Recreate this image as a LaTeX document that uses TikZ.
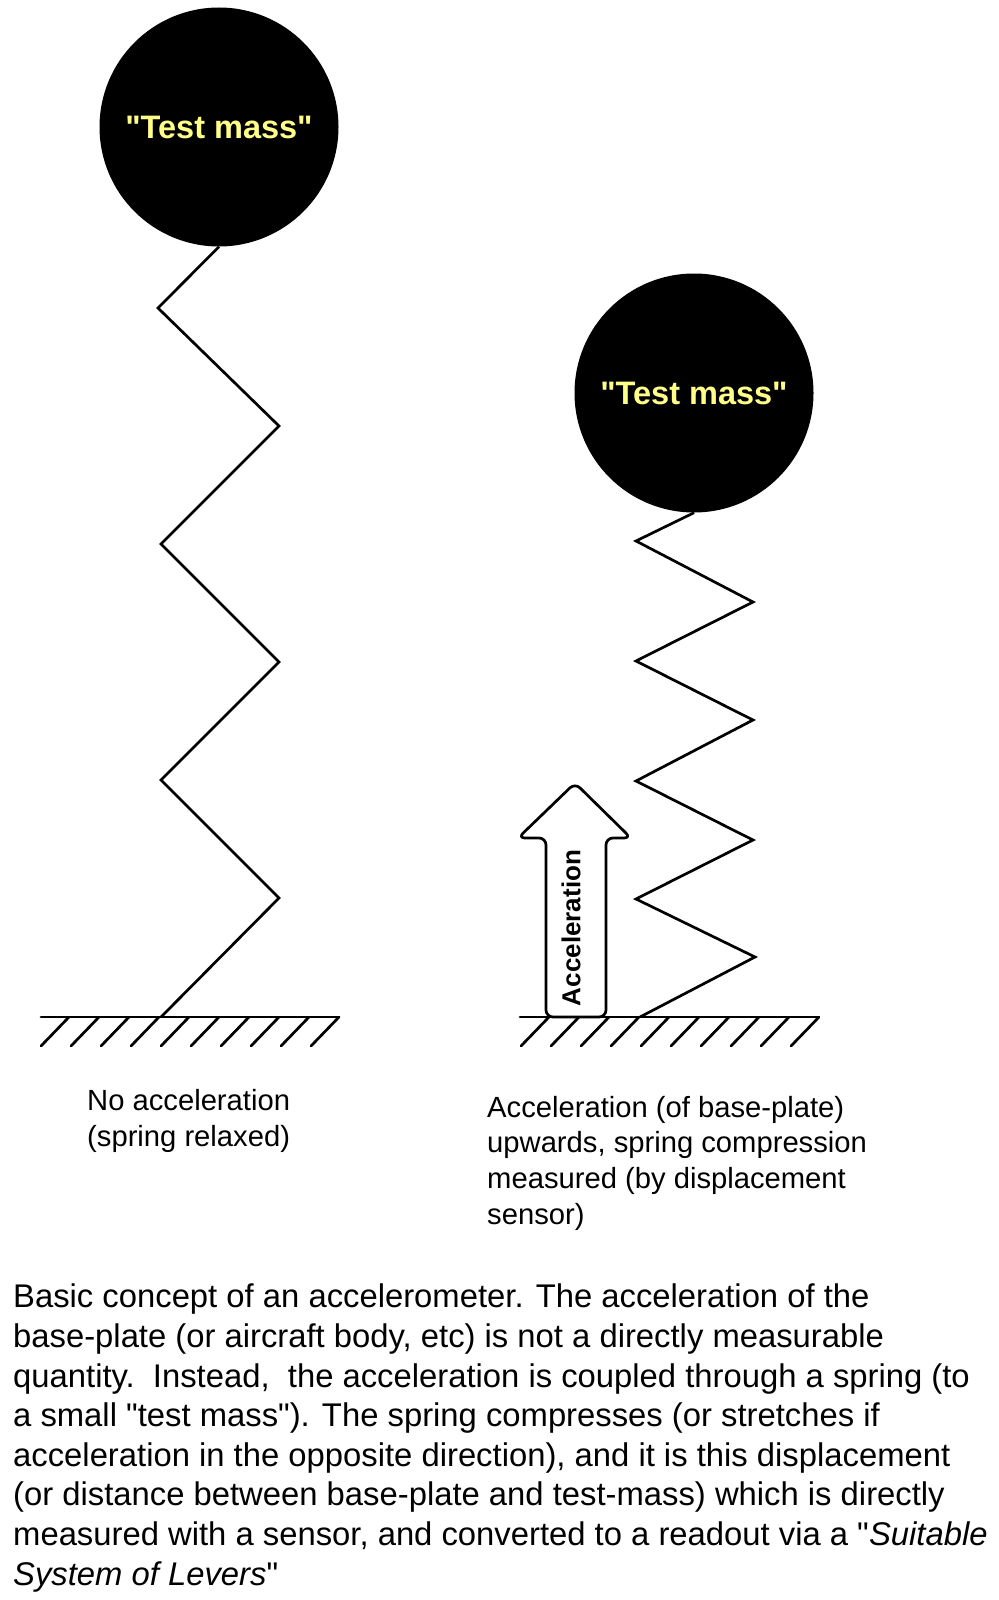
\documentclass[tikz,border=0pt]{standalone}
\usepackage{fontspec}
\setmainfont{Liberation Sans}[Ligatures = TeXOff]
\usetikzlibrary{arrows.meta}
\definecolor{massyellow}{RGB}{255,255,136}
\tikzset{mass/.style = {shape = circle, fill = black, minimum size = 239pt, inner sep = 0pt, text = massyellow, font = \fontsize{32.5}{38}\selectfont\bfseries}}
\tikzset{spring/.style = {line width = 2.7pt, line join = miter}}
\tikzset{ground/.style = {line width = 2.7pt, line cap = round}}
\tikzset{arrowbox/.style = {line width = 2.7pt, fill = white, rounded corners = 7pt}}
\tikzset{caption/.style = {align = left, anchor = base west, inner sep = 0pt, font = \fontsize{29.2}{35.6}\selectfont}}

\begin{document}
\begin{tikzpicture}[x = 1pt, y = -1pt]
	\useasboundingbox (0,0) rectangle (998,1600);

	\node[mass] (massA) at (219, 127) {"Test mass"};
	\node[mass] (massB) at (694, 393) {"Test mass"};

	\coordinate (baseA) at (161, 1017);
	\coordinate (baseB) at (640, 1017);

	% relaxed spring
	\draw[spring] (massA.south) -- (158, 308) -- (279, 426) -- (161, 544) -- (279, 662)
		-- (161, 780) -- (279, 898) -- (baseA);
	% compressed spring
	\draw[spring] (massB.south) -- (636, 541) -- (753, 602) -- (636, 661) -- (753, 720)
		-- (636, 781) -- (753, 840) -- (636, 899) -- (755, 957) -- (baseB);

	\draw[arrowbox] (546, 1017) -- (546, 838) -- (518, 838) -- (575, 783) -- (631, 838)
		-- (606, 838) -- (606, 1017) -- cycle;
	\node[rotate = 90, font = \fontsize{26}{31}\selectfont\bfseries] (accel) at (571, 928) {Acceleration};

	\draw[ground] (41, 1017) -- (339, 1017);
	\draw[ground] (520, 1017) -- (818, 1017);
	\foreach \x in {69, 99, ..., 339} \draw[ground] (\x, 1017) -- ++(-28, 29);
	\foreach \x in {549, 579, ..., 819} \draw[ground] (\x, 1017) -- ++(-28, 29);

	% base anchor sits on the last line
	\node[caption] (capA) at (87, 1146) {No acceleration\\(spring relaxed)};
	\node[caption] (capB) at (487, 1224) {Acceleration (of base-plate)\\upwards, spring compression\\measured (by displacement\\sensor)};

	\node[caption, font = \fontsize{32.8}{39.6}\selectfont] (note) at (13, 1585) {Basic concept of an accelerometer. The acceleration of the\\
		base-plate (or aircraft body, etc) is not a directly measurable\\
		quantity.\ \ Instead,\ \ the acceleration is coupled through a spring (to\\
		a small "test mass"). The spring compresses (or stretches if\\
		acceleration in the opposite direction), and it is this displacement\\
		(or distance between base-plate and test-mass) which is directly\\
		measured with a sensor, and converted to a readout via a "\textit{Suitable}\\
		\textit{System of Levers}"};
\end{tikzpicture}
\end{document}
